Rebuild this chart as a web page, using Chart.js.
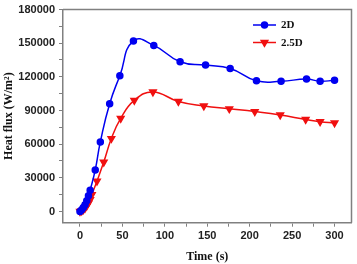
<!DOCTYPE html>
<html>
<head>
<meta charset="utf-8">
<script src="https://cdn.jsdelivr.net/npm/chart.js@4.4.1/dist/chart.umd.min.js"></script>
<style>
  html, body { margin: 0; padding: 0; background: #fff; }
  #wrap { width: 357px; height: 264px; }
</style>
</head>
<body>
<div id="wrap"><canvas id="chart" width="357" height="264"></canvas></div>
<script>
// data
var time2D = [0, 2, 4, 6, 8, 10, 12, 18, 24, 35, 47, 63, 87, 118, 148, 177, 208, 237, 267, 283, 300];
var flux2D = [0, 1500, 3500, 6000, 9500, 14000, 19000, 37000, 62000, 96000, 121000, 152000, 148000, 133500, 130500, 127500, 116500, 116000, 118000, 116000, 117000];

var time25D = [0, 2, 4, 6, 8, 10, 12, 14, 20, 28, 37, 48, 64, 86, 116, 146, 176, 206, 236, 266, 283, 300];
var flux25D = [0, 500, 1500, 3000, 5000, 7500, 10500, 15000, 27000, 44000, 65000, 83000, 99000, 106500, 98000, 94000, 91500, 89000, 86000, 82000, 80000, 79000];

var seriesNames = ["2D", "2.5D"];
var xTicks = [0, 25, 50, 75, 100, 125, 150, 175, 200, 225, 250, 275, 300];
var yTicks = [0, 15000, 30000, 45000, 60000, 75000, 90000, 105000, 120000, 135000, 150000, 165000, 180000];

var AXIS = "#808080";
var BLUE = "#0000f0";
var RED = "#f01010";

function toPoints(xs, ys) {
  return xs.map((x, i) => ({ x: x, y: ys[i] }));
}

// frame on top/right + legend with line and marker
const framePlugin = {
  id: "frame",
  afterDraw(chart) {
    const ctx = chart.ctx;
    const a = chart.chartArea;
    ctx.save();
    ctx.strokeStyle = AXIS;
    ctx.lineWidth = 1.5;
    ctx.beginPath();
    ctx.moveTo(a.left, a.top);
    ctx.lineTo(a.right, a.top);
    ctx.lineTo(a.right, a.bottom);
    ctx.stroke();

    // legend
    const items = chart.data.datasets;
    const x0 = 253, x1 = 276;
    items.forEach((ds, i) => {
      const y = 25 + i * 17.5;
      ctx.strokeStyle = ds.borderColor;
      ctx.lineWidth = ds.borderWidth;
      ctx.beginPath();
      ctx.moveTo(x0, y);
      ctx.lineTo(x1, y);
      ctx.stroke();
      ctx.fillStyle = ds.pointBackgroundColor;
      ctx.strokeStyle = ds.pointBorderColor;
      Chart.helpers.drawPoint(ctx, {
        pointStyle: ds.pointStyle,
        radius: ds.pointRadius,
        rotation: ds.pointRotation || 0,
        borderWidth: 1
      }, (x0 + x1) / 2, y);
      ctx.fillStyle = "#111";
      ctx.font = "bold 11px 'Liberation Serif', 'Times New Roman', serif";
      ctx.textBaseline = "middle";
      ctx.textAlign = "left";
      ctx.fillText(ds.label, x1 + 5, y + 0.5);
    });
    ctx.restore();
  }
};

const ctx = document.getElementById("chart").getContext("2d");
new Chart(ctx, {
  type: "line",
  data: {
    datasets: [{
      label: seriesNames[0],
      data: toPoints(time2D, flux2D),
      borderColor: BLUE,
      backgroundColor: BLUE,
      pointBackgroundColor: BLUE,
      pointBorderColor: BLUE,
      pointStyle: "circle",
      pointRadius: 3,
      borderWidth: 1.5,
      tension: 0.5,
      fill: false
    }, {
      label: seriesNames[1],
      data: toPoints(time25D, flux25D),
      borderColor: RED,
      backgroundColor: RED,
      pointBackgroundColor: RED,
      pointBorderColor: RED,
      pointStyle: "triangle",
      pointRotation: 180,
      pointRadius: 3.8,
      borderWidth: 1.5,
      tension: 0.45,
      fill: false
    }]
  },
  options: {
    responsive: false,
    maintainAspectRatio: false,
    animation: false,
    layout: { padding: { left: 0, right: 3, top: 0, bottom: 0 } },
    plugins: {
      legend: { display: false },
      tooltip: { enabled: false }
    },
    scales: {
      x: {
        type: "linear",
        min: -20,
        max: 320,
        afterBuildTicks: (scale) => { scale.ticks = xTicks.map(v => ({ value: v })); },
        afterFit: (scale) => { scale.height = 41.3; },
        border: { color: AXIS, width: 1.5 },
        grid: { drawOnChartArea: false, drawTicks: true, tickLength: 4, color: AXIS, tickWidth: 1 },
        ticks: {
          color: "#222",
          padding: 3,
          maxRotation: 0,
          autoSkip: false,
          font: { family: "'Liberation Sans', Arial, sans-serif", size: 11, weight: "bold" },
          callback: (v) => (v % 50 === 0 ? String(v) : "")
        },
        title: {
          display: true,
          text: "Time (s)",
          color: "#111",
          padding: { top: 0, bottom: 0 },
          font: { family: "'Liberation Serif', 'Times New Roman', serif", size: 12, weight: "bold" }
        }
      },
      y: {
        type: "linear",
        min: -10000,
        max: 180000,
        afterBuildTicks: (scale) => { scale.ticks = yTicks.map(v => ({ value: v })); },
        afterFit: (scale) => { scale.width = 63; },
        border: { color: AXIS, width: 1.5 },
        grid: { drawOnChartArea: false, drawTicks: true, tickLength: 4, color: AXIS, tickWidth: 1 },
        ticks: {
          color: "#222",
          padding: 4,
          autoSkip: false,
          font: { family: "'Liberation Sans', Arial, sans-serif", size: 11, weight: "bold", lineHeight: 1.0 },
          callback: (v) => (v % 30000 === 0 ? String(v) : "")
        },
        title: {
          display: true,
          text: "Heat flux (W/m\u00b2)",
          color: "#111",
          padding: { top: 2, bottom: 0 },
          font: { family: "'Liberation Serif', 'Times New Roman', serif", size: 12, weight: "bold" }
        }
      }
    }
  },
  plugins: [framePlugin]
});
</script>
</body>
</html>
